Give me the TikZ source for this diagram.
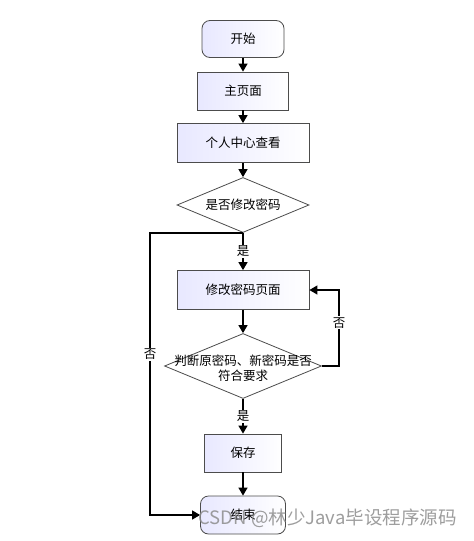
\documentclass[tikz,border=0pt]{standalone}
\usepackage{fontspec}
\setmainfont{Noto Sans CJK SC}
\usetikzlibrary{arrows.meta,shapes.geometric}
\begin{document}
\begin{tikzpicture}[x=1pt,y=-1pt,
  boxstyle/.style={draw=black!70, line width=0.8pt, left color=blue!9, right color=white, inner sep=0pt, font=\fontsize{12.5}{14}\selectfont},
  roundbox/.style={boxstyle, rounded corners=8pt},
  decision/.style={diamond, draw=black!70, line width=0.8pt, fill=white, inner sep=0pt, aspect=2.4},
  arr/.style={line width=1.3pt, -{Triangle[length=8pt,width=9pt]}},
  lbl/.style={fill=white, inner sep=1pt, font=\fontsize{12.5}{14}\selectfont}
]
\useasboundingbox (0,0) rectangle (474,541);
\node[roundbox, minimum width=82pt, minimum height=37pt] (start) at (243,39) {开始};
\node[boxstyle, minimum width=91pt, minimum height=38pt] (home) at (243,91) {主页面};
\node[boxstyle, minimum width=132pt, minimum height=39pt] (center) at (243,143) {个人中心查看};
\node[decision, minimum width=132pt, minimum height=55pt] (d1) at (243,205) {};
\node[font=\fontsize{12.5}{14}\selectfont] (d1t) at (d1) {是否修改密码};
\node[boxstyle, minimum width=132pt, minimum height=39pt] (pwd) at (243,290) {修改密码页面};
\node[decision, minimum width=157pt, minimum height=65pt] (d2) at (243,366) {};
\node[font=\fontsize{12.5}{15}\selectfont, align=center] (d2t) at (243,368) {判断原密码、新密码是否\\符合要求};
\node[boxstyle, minimum width=77pt, minimum height=38pt] (save) at (243,453) {保存};
\node[roundbox, minimum width=85pt, minimum height=38pt] (end) at (243,515) {};
\node[font=\fontsize{12.5}{14}\selectfont] (endt) at (243,515) {结束};
\coordinate (lx) at (150,0);
\coordinate (rx) at (339,0);
\draw[arr] (start) -- (home);
\draw[arr] (home) -- (center);
\draw[arr] (center) -- (d1);
\draw[arr] (d1.south) -- (pwd) node[lbl, pos=0.5] (yes1) {是};
\draw[arr] (pwd) -- (d2);
\draw[arr] (d2.south) -- (save) node[lbl, pos=0.5] (yes2) {是};
\draw[arr] (save) -- (end);
\draw[arr] (d2.east) -- (d2.east -| rx) -- (pwd.east -| rx) node[lbl, pos=0.57] (no2) {否} -- (pwd.east);
\draw[arr] (d1.south) -- (d1.south -| lx) -- (end.west -| lx) node[lbl, pos=0.43] (no1) {否} -- (end.west);
\node[anchor=west, text=black!45, opacity=0.85, font=\fontsize{18.5}{20}\selectfont] (wm) at (195,518) {CSDN @林少Java毕设程序源码};
\end{tikzpicture}
\end{document}
